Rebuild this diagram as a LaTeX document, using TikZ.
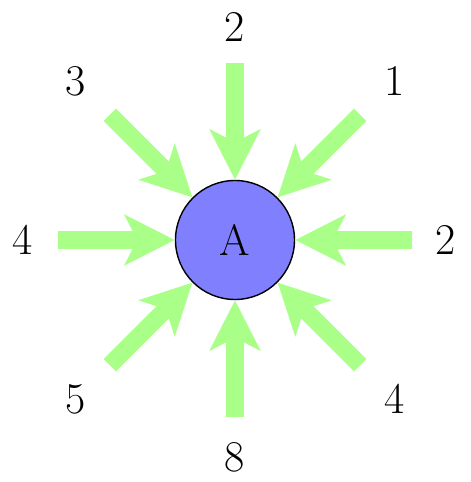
\documentclass[tikz,border=0pt]{standalone}
\usepackage{fontspec}
\usetikzlibrary{arrows.meta}
\definecolor{flowgreen}{RGB}{170,255,136}
\begin{document}
\begin{tikzpicture}[
        every node/.style={font=\fontsize{25}{30}\selectfont},
        flow/.style={-{Stealth[length=1cm,width=1cm,inset=0.25cm]}, line width=0.35cm, draw=flowgreen}
    ]
        \useasboundingbox (-4.7,-4.84) rectangle (4.7,4.8);
        \node[circle, draw, thick, fill=blue!50, minimum size=2.38cm, inner sep=0pt] (A) at (0,0) {A};
        \foreach \ang/\lab/\dist in {0/2/4.22, 45/1/4.5, 90/2/4.27, 135/3/4.5, 180/4/4.24, 225/5/4.5, 270/8/4.34, 315/4/4.5} {
            \coordinate (s\ang) at (\ang:3.54);
            \node (lab\ang) at (\ang:\dist) {\lab};
            \draw[flow] (s\ang) -- (A);
        }
    \end{tikzpicture}
\end{document}
